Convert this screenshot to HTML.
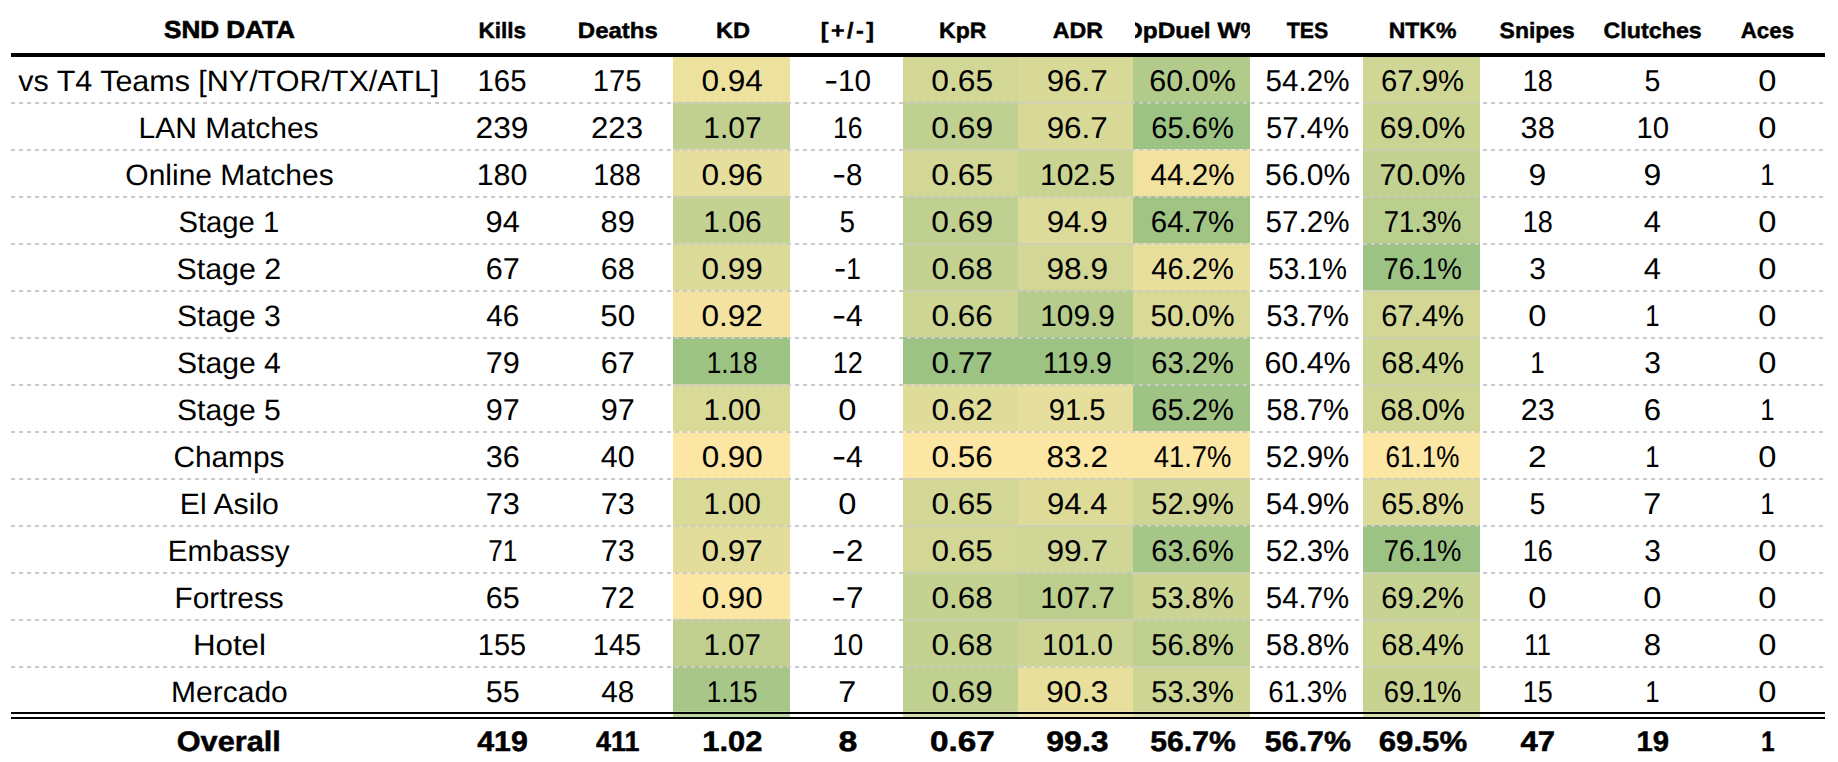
<!DOCTYPE html>
<html lang="en"><head><meta charset="utf-8"><title>SND DATA</title>
<style>
html,body{margin:0;padding:0;background:#fff;}
body{width:1838px;height:762px;position:relative;overflow:hidden;font-family:"Liberation Sans",sans-serif;color:#000;text-rendering:geometricPrecision;}
.c{position:absolute;text-align:center;white-space:nowrap;}
.f{position:absolute;}
.t{display:inline-block;transform-origin:50% 50%;}
.d{font-size:30px;line-height:47px;height:47px;}
.d0{font-size:29.5px;}
.h{font-size:22.1px;line-height:30px;height:30px;font-weight:bold;-webkit-text-stroke:0.45px #000;}
.h0{font-size:24.5px;line-height:30px;height:30px;font-weight:bold;-webkit-text-stroke:0.65px #000;}
.o{font-size:28.2px;line-height:40px;height:40px;font-weight:bold;-webkit-text-stroke:0.5px #000;}
.m{display:inline-block;transform:translateY(-1px) scale(1.4,1.1);margin:0 2px;}
.pm{letter-spacing:2.4px;margin-right:-2.4px;}
.clip{overflow:hidden;}
.clip .t{position:relative;left:50%;margin-left:-100px;width:200px;text-align:center;}
.dash{position:absolute;left:11px;width:1814px;height:2px;background:repeating-linear-gradient(90deg,#cbcbcb 0,#cbcbcb 4px,transparent 4px,transparent 8px);}
.ln{position:absolute;left:11px;width:1814px;background:#000;}

</style></head><body>
<div class="f" style="left:673px;top:55px;width:117px;height:49px;background:rgb(237,225,158)"></div>
<div class="f" style="left:903px;top:55px;width:117px;height:49px;background:rgb(210,215,149)"></div>
<div class="f" style="left:1018px;top:55px;width:117px;height:49px;background:rgb(216,217,151)"></div>
<div class="f" style="left:1133px;top:55px;width:117px;height:49px;background:rgb(178,203,139)"></div>
<div class="f" style="left:1363px;top:55px;width:117px;height:49px;background:rgb(208,214,149)"></div>
<div class="f" style="left:673px;top:102px;width:117px;height:49px;background:rgb(193,208,144)"></div>
<div class="f" style="left:903px;top:102px;width:117px;height:49px;background:rgb(192,208,144)"></div>
<div class="f" style="left:1018px;top:102px;width:117px;height:49px;background:rgb(216,217,151)"></div>
<div class="f" style="left:1133px;top:102px;width:117px;height:49px;background:rgb(157,195,132)"></div>
<div class="f" style="left:1363px;top:102px;width:117px;height:49px;background:rgb(201,211,146)"></div>
<div class="f" style="left:673px;top:149px;width:117px;height:49px;background:rgb(230,222,156)"></div>
<div class="f" style="left:903px;top:149px;width:117px;height:49px;background:rgb(210,215,149)"></div>
<div class="f" style="left:1018px;top:149px;width:117px;height:49px;background:rgb(201,211,146)"></div>
<div class="f" style="left:1133px;top:149px;width:117px;height:49px;background:rgb(241,226,159)"></div>
<div class="f" style="left:1363px;top:149px;width:117px;height:49px;background:rgb(194,209,144)"></div>
<div class="f" style="left:673px;top:196px;width:117px;height:49px;background:rgb(196,210,145)"></div>
<div class="f" style="left:903px;top:196px;width:117px;height:49px;background:rgb(192,208,144)"></div>
<div class="f" style="left:1018px;top:196px;width:117px;height:49px;background:rgb(220,219,153)"></div>
<div class="f" style="left:1133px;top:196px;width:117px;height:49px;background:rgb(161,196,133)"></div>
<div class="f" style="left:1363px;top:196px;width:117px;height:49px;background:rgb(186,206,142)"></div>
<div class="f" style="left:673px;top:243px;width:117px;height:49px;background:rgb(220,218,153)"></div>
<div class="f" style="left:903px;top:243px;width:117px;height:49px;background:rgb(196,210,145)"></div>
<div class="f" style="left:1018px;top:243px;width:117px;height:49px;background:rgb(210,215,149)"></div>
<div class="f" style="left:1133px;top:243px;width:117px;height:49px;background:rgb(233,223,157)"></div>
<div class="f" style="left:1363px;top:243px;width:117px;height:49px;background:rgb(157,195,132)"></div>
<div class="f" style="left:673px;top:290px;width:117px;height:49px;background:rgb(244,227,160)"></div>
<div class="f" style="left:903px;top:290px;width:117px;height:49px;background:rgb(205,213,148)"></div>
<div class="f" style="left:1018px;top:290px;width:117px;height:49px;background:rgb(182,204,140)"></div>
<div class="f" style="left:1133px;top:290px;width:117px;height:49px;background:rgb(218,218,152)"></div>
<div class="f" style="left:1363px;top:290px;width:117px;height:49px;background:rgb(211,215,150)"></div>
<div class="f" style="left:673px;top:337px;width:117px;height:49px;background:rgb(157,195,132)"></div>
<div class="f" style="left:903px;top:337px;width:117px;height:49px;background:rgb(157,195,132)"></div>
<div class="f" style="left:1018px;top:337px;width:117px;height:49px;background:rgb(157,195,132)"></div>
<div class="f" style="left:1133px;top:337px;width:117px;height:49px;background:rgb(166,198,135)"></div>
<div class="f" style="left:1363px;top:337px;width:117px;height:49px;background:rgb(204,213,148)"></div>
<div class="f" style="left:673px;top:384px;width:117px;height:49px;background:rgb(217,217,152)"></div>
<div class="f" style="left:903px;top:384px;width:117px;height:49px;background:rgb(223,220,154)"></div>
<div class="f" style="left:1018px;top:384px;width:117px;height:49px;background:rgb(229,222,156)"></div>
<div class="f" style="left:1133px;top:384px;width:117px;height:49px;background:rgb(159,195,133)"></div>
<div class="f" style="left:1363px;top:384px;width:117px;height:49px;background:rgb(207,214,148)"></div>
<div class="f" style="left:673px;top:431px;width:117px;height:49px;background:rgb(251,230,163)"></div>
<div class="f" style="left:903px;top:431px;width:117px;height:49px;background:rgb(251,230,163)"></div>
<div class="f" style="left:1018px;top:431px;width:117px;height:49px;background:rgb(251,230,163)"></div>
<div class="f" style="left:1133px;top:431px;width:117px;height:49px;background:rgb(251,230,163)"></div>
<div class="f" style="left:1363px;top:431px;width:117px;height:49px;background:rgb(251,230,163)"></div>
<div class="f" style="left:673px;top:478px;width:117px;height:49px;background:rgb(217,217,152)"></div>
<div class="f" style="left:903px;top:478px;width:117px;height:49px;background:rgb(210,215,149)"></div>
<div class="f" style="left:1018px;top:478px;width:117px;height:49px;background:rgb(222,219,153)"></div>
<div class="f" style="left:1133px;top:478px;width:117px;height:49px;background:rgb(206,213,148)"></div>
<div class="f" style="left:1363px;top:478px;width:117px;height:49px;background:rgb(221,219,153)"></div>
<div class="f" style="left:673px;top:525px;width:117px;height:49px;background:rgb(227,221,155)"></div>
<div class="f" style="left:903px;top:525px;width:117px;height:49px;background:rgb(210,215,149)"></div>
<div class="f" style="left:1018px;top:525px;width:117px;height:49px;background:rgb(208,214,149)"></div>
<div class="f" style="left:1133px;top:525px;width:117px;height:49px;background:rgb(165,198,135)"></div>
<div class="f" style="left:1363px;top:525px;width:117px;height:49px;background:rgb(157,195,132)"></div>
<div class="f" style="left:673px;top:572px;width:117px;height:49px;background:rgb(251,230,163)"></div>
<div class="f" style="left:903px;top:572px;width:117px;height:49px;background:rgb(196,210,145)"></div>
<div class="f" style="left:1018px;top:572px;width:117px;height:49px;background:rgb(187,206,142)"></div>
<div class="f" style="left:1133px;top:572px;width:117px;height:49px;background:rgb(203,212,147)"></div>
<div class="f" style="left:1363px;top:572px;width:117px;height:49px;background:rgb(199,211,146)"></div>
<div class="f" style="left:673px;top:619px;width:117px;height:49px;background:rgb(193,208,144)"></div>
<div class="f" style="left:903px;top:619px;width:117px;height:49px;background:rgb(196,210,145)"></div>
<div class="f" style="left:1018px;top:619px;width:117px;height:49px;background:rgb(205,213,148)"></div>
<div class="f" style="left:1133px;top:619px;width:117px;height:49px;background:rgb(191,207,143)"></div>
<div class="f" style="left:1363px;top:619px;width:117px;height:49px;background:rgb(204,213,148)"></div>
<div class="f" style="left:673px;top:666px;width:117px;height:53px;background:rgb(167,198,135)"></div>
<div class="f" style="left:903px;top:666px;width:117px;height:53px;background:rgb(192,208,144)"></div>
<div class="f" style="left:1018px;top:666px;width:117px;height:53px;background:rgb(232,223,157)"></div>
<div class="f" style="left:1133px;top:666px;width:117px;height:53px;background:rgb(204,213,148)"></div>
<div class="f" style="left:1363px;top:666px;width:117px;height:53px;background:rgb(200,211,146)"></div>
<div class="dash" style="top:102px"></div>
<div class="dash" style="top:149px"></div>
<div class="dash" style="top:196px"></div>
<div class="dash" style="top:243px"></div>
<div class="dash" style="top:290px"></div>
<div class="dash" style="top:337px"></div>
<div class="dash" style="top:384px"></div>
<div class="dash" style="top:431px"></div>
<div class="dash" style="top:478px"></div>
<div class="dash" style="top:525px"></div>
<div class="dash" style="top:572px"></div>
<div class="dash" style="top:619px"></div>
<div class="dash" style="top:666px"></div>
<div class="f" style="left:11px;top:711px;width:1814px;height:1px;background:rgba(255,255,255,.2)"></div>
<div class="f" style="left:11px;top:714px;width:1814px;height:3px;background:rgba(255,255,255,.25)"></div>
<div class="ln" style="top:53px;height:4px"></div>
<div class="ln" style="top:712px;height:2px"></div>
<div class="ln" style="top:717px;height:2px"></div>
<div class="c h0" style="left:13px;top:16.4px;width:432px"><span class="t" style="transform:scaleX(1.0656)">SND DATA</span></div>
<div class="c h" style="left:445px;top:16.3px;width:115px"><span class="t" style="transform:scaleX(1.0222)">Kills</span></div>
<div class="c h" style="left:560px;top:16.3px;width:115px"><span class="t" style="transform:scaleX(1.0861)">Deaths</span></div>
<div class="c h" style="left:675px;top:16.3px;width:115px"><span class="t" style="transform:scaleX(1.0667)">KD</span></div>
<div class="c h" style="left:790px;top:16.3px;width:115px"><span class="t" style="transform:scaleX(1.0510)"><span class="pm">[+/-]</span></span></div>
<div class="c h" style="left:905px;top:16.3px;width:115px"><span class="t" style="transform:scaleX(1.0409)">KpR</span></div>
<div class="c h" style="left:1020px;top:16.3px;width:115px"><span class="t" style="transform:scaleX(1.0489)">ADR</span></div>
<div class="c h clip" style="left:1135px;top:16.3px;width:115px;text-align:left"><span class="t" style="transform:scaleX(1.1070)">OpDuel W%</span></div>
<div class="c h" style="left:1250px;top:16.3px;width:115px"><span class="t" style="transform:scaleX(0.9667)">TES</span></div>
<div class="c h" style="left:1365px;top:16.3px;width:115px"><span class="t" style="transform:scaleX(1.0406)">NTK%</span></div>
<div class="c h" style="left:1480px;top:16.3px;width:115px"><span class="t" style="transform:scaleX(1.0394)">Snipes</span></div>
<div class="c h" style="left:1595px;top:16.3px;width:115px"><span class="t" style="transform:scaleX(1.0522)">Clutches</span></div>
<div class="c h" style="left:1710px;top:16.3px;width:115px"><span class="t" style="transform:scaleX(1.0115)">Aces</span></div>
<div class="c d d0" style="left:13px;top:57.5px;width:432px"><span class="t" style="transform:scaleX(1.0328)">vs T4 Teams [NY/TOR/TX/ATL]</span></div>
<div class="c d" style="left:445px;top:57.5px;width:115px"><span class="t" style="transform:scaleX(0.9783)">165</span></div>
<div class="c d" style="left:560px;top:57.5px;width:115px"><span class="t" style="transform:scaleX(0.9739)">175</span></div>
<div class="c d" style="left:675px;top:57.5px;width:115px"><span class="t" style="transform:scaleX(1.0526)">0.94</span></div>
<div class="c d" style="left:790px;top:57.5px;width:115px"><span class="t" style="transform:scaleX(0.9909)"><span class="m">-</span>10</span></div>
<div class="c d" style="left:905px;top:57.5px;width:115px"><span class="t" style="transform:scaleX(1.0589)">0.65</span></div>
<div class="c d" style="left:1020px;top:57.5px;width:115px"><span class="t" style="transform:scaleX(1.0455)">96.7</span></div>
<div class="c d" style="left:1135px;top:57.5px;width:115px"><span class="t" style="transform:scaleX(1.0169)">60.0%</span></div>
<div class="c d" style="left:1250px;top:57.5px;width:115px"><span class="t" style="transform:scaleX(0.9854)">54.2%</span></div>
<div class="c d" style="left:1365px;top:57.5px;width:115px"><span class="t" style="transform:scaleX(0.9747)">67.9%</span></div>
<div class="c d" style="left:1480px;top:57.5px;width:115px"><span class="t" style="transform:scaleX(0.9000)">18</span></div>
<div class="c d" style="left:1595px;top:57.5px;width:115px"><span class="t" style="transform:scaleX(0.9500)">5</span></div>
<div class="c d" style="left:1710px;top:57.5px;width:115px"><span class="t" style="transform:scaleX(1.0867)">0</span></div>
<div class="c d d0" style="left:13px;top:104.5px;width:432px"><span class="t" style="transform:scaleX(1.0173)">LAN Matches</span></div>
<div class="c d" style="left:445px;top:104.5px;width:115px"><span class="t" style="transform:scaleX(1.0596)">239</span></div>
<div class="c d" style="left:560px;top:104.5px;width:115px"><span class="t" style="transform:scaleX(1.0383)">223</span></div>
<div class="c d" style="left:675px;top:104.5px;width:115px"><span class="t" style="transform:scaleX(1.0000)">1.07</span></div>
<div class="c d" style="left:790px;top:104.5px;width:115px"><span class="t" style="transform:scaleX(0.8833)">16</span></div>
<div class="c d" style="left:905px;top:104.5px;width:115px"><span class="t" style="transform:scaleX(1.0589)">0.69</span></div>
<div class="c d" style="left:1020px;top:104.5px;width:115px"><span class="t" style="transform:scaleX(1.0455)">96.7</span></div>
<div class="c d" style="left:1135px;top:104.5px;width:115px"><span class="t" style="transform:scaleX(0.9711)">65.6%</span></div>
<div class="c d" style="left:1250px;top:104.5px;width:115px"><span class="t" style="transform:scaleX(0.9768)">57.4%</span></div>
<div class="c d" style="left:1365px;top:104.5px;width:115px"><span class="t" style="transform:scaleX(1.0036)">69.0%</span></div>
<div class="c d" style="left:1480px;top:104.5px;width:115px"><span class="t" style="transform:scaleX(1.0258)">38</span></div>
<div class="c d" style="left:1595px;top:104.5px;width:115px"><span class="t" style="transform:scaleX(0.9767)">10</span></div>
<div class="c d" style="left:1710px;top:104.5px;width:115px"><span class="t" style="transform:scaleX(1.0867)">0</span></div>
<div class="c d d0" style="left:13px;top:151.5px;width:432px"><span class="t" style="transform:scaleX(1.0163)">Online Matches</span></div>
<div class="c d" style="left:445px;top:151.5px;width:115px"><span class="t" style="transform:scaleX(1.0130)">180</span></div>
<div class="c d" style="left:560px;top:151.5px;width:115px"><span class="t" style="transform:scaleX(0.9522)">188</span></div>
<div class="c d" style="left:675px;top:151.5px;width:115px"><span class="t" style="transform:scaleX(1.0536)">0.96</span></div>
<div class="c d" style="left:790px;top:151.5px;width:115px"><span class="t" style="transform:scaleX(0.9821)"><span class="m">-</span>8</span></div>
<div class="c d" style="left:905px;top:151.5px;width:115px"><span class="t" style="transform:scaleX(1.0589)">0.65</span></div>
<div class="c d" style="left:1020px;top:151.5px;width:115px"><span class="t" style="transform:scaleX(1.0014)">102.5</span></div>
<div class="c d" style="left:1135px;top:151.5px;width:115px"><span class="t" style="transform:scaleX(0.9855)">44.2%</span></div>
<div class="c d" style="left:1250px;top:151.5px;width:115px"><span class="t" style="transform:scaleX(1.0012)">56.0%</span></div>
<div class="c d" style="left:1365px;top:151.5px;width:115px"><span class="t" style="transform:scaleX(1.0096)">70.0%</span></div>
<div class="c d" style="left:1480px;top:151.5px;width:115px"><span class="t" style="transform:scaleX(1.0615)">9</span></div>
<div class="c d" style="left:1595px;top:151.5px;width:115px"><span class="t" style="transform:scaleX(1.0615)">9</span></div>
<div class="c d" style="left:1710px;top:151.5px;width:115px"><span class="t" style="transform:scaleX(0.8583)">1</span></div>
<div class="c d d0" style="left:13px;top:198.5px;width:432px"><span class="t" style="transform:scaleX(0.9898)">Stage 1</span></div>
<div class="c d" style="left:445px;top:198.5px;width:115px"><span class="t" style="transform:scaleX(1.0258)">94</span></div>
<div class="c d" style="left:560px;top:198.5px;width:115px"><span class="t" style="transform:scaleX(1.0258)">89</span></div>
<div class="c d" style="left:675px;top:198.5px;width:115px"><span class="t" style="transform:scaleX(1.0000)">1.06</span></div>
<div class="c d" style="left:790px;top:198.5px;width:115px"><span class="t" style="transform:scaleX(0.9286)">5</span></div>
<div class="c d" style="left:905px;top:198.5px;width:115px"><span class="t" style="transform:scaleX(1.0589)">0.69</span></div>
<div class="c d" style="left:1020px;top:198.5px;width:115px"><span class="t" style="transform:scaleX(1.0455)">94.9</span></div>
<div class="c d" style="left:1135px;top:198.5px;width:115px"><span class="t" style="transform:scaleX(0.9795)">64.7%</span></div>
<div class="c d" style="left:1250px;top:198.5px;width:115px"><span class="t" style="transform:scaleX(0.9854)">57.2%</span></div>
<div class="c d" style="left:1365px;top:198.5px;width:115px"><span class="t" style="transform:scaleX(0.9145)">71.3%</span></div>
<div class="c d" style="left:1480px;top:198.5px;width:115px"><span class="t" style="transform:scaleX(0.9000)">18</span></div>
<div class="c d" style="left:1595px;top:198.5px;width:115px"><span class="t" style="transform:scaleX(1.0333)">4</span></div>
<div class="c d" style="left:1710px;top:198.5px;width:115px"><span class="t" style="transform:scaleX(1.0867)">0</span></div>
<div class="c d d0" style="left:13px;top:245.5px;width:432px"><span class="t" style="transform:scaleX(1.0306)">Stage 2</span></div>
<div class="c d" style="left:445px;top:245.5px;width:115px"><span class="t" style="transform:scaleX(1.0194)">67</span></div>
<div class="c d" style="left:560px;top:245.5px;width:115px"><span class="t" style="transform:scaleX(1.0194)">68</span></div>
<div class="c d" style="left:675px;top:245.5px;width:115px"><span class="t" style="transform:scaleX(1.0500)">0.99</span></div>
<div class="c d" style="left:790px;top:245.5px;width:115px"><span class="t" style="transform:scaleX(0.8741)"><span class="m">-</span>1</span></div>
<div class="c d" style="left:905px;top:245.5px;width:115px"><span class="t" style="transform:scaleX(1.0500)">0.68</span></div>
<div class="c d" style="left:1020px;top:245.5px;width:115px"><span class="t" style="transform:scaleX(1.0545)">98.9</span></div>
<div class="c d" style="left:1135px;top:245.5px;width:115px"><span class="t" style="transform:scaleX(0.9687)">46.2%</span></div>
<div class="c d" style="left:1250px;top:245.5px;width:115px"><span class="t" style="transform:scaleX(0.9244)">53.1%</span></div>
<div class="c d" style="left:1365px;top:245.5px;width:115px"><span class="t" style="transform:scaleX(0.9217)">76.1%</span></div>
<div class="c d" style="left:1480px;top:245.5px;width:115px"><span class="t" style="transform:scaleX(1.0000)">3</span></div>
<div class="c d" style="left:1595px;top:245.5px;width:115px"><span class="t" style="transform:scaleX(1.0333)">4</span></div>
<div class="c d" style="left:1710px;top:245.5px;width:115px"><span class="t" style="transform:scaleX(1.0867)">0</span></div>
<div class="c d d0" style="left:13px;top:292.5px;width:432px"><span class="t" style="transform:scaleX(1.0202)">Stage 3</span></div>
<div class="c d" style="left:445px;top:292.5px;width:115px"><span class="t" style="transform:scaleX(0.9875)">46</span></div>
<div class="c d" style="left:560px;top:292.5px;width:115px"><span class="t" style="transform:scaleX(1.0452)">50</span></div>
<div class="c d" style="left:675px;top:292.5px;width:115px"><span class="t" style="transform:scaleX(1.0500)">0.92</span></div>
<div class="c d" style="left:790px;top:292.5px;width:115px"><span class="t" style="transform:scaleX(1.0071)"><span class="m">-</span>4</span></div>
<div class="c d" style="left:905px;top:292.5px;width:115px"><span class="t" style="transform:scaleX(1.0500)">0.66</span></div>
<div class="c d" style="left:1020px;top:292.5px;width:115px"><span class="t" style="transform:scaleX(0.9944)">109.9</span></div>
<div class="c d" style="left:1135px;top:292.5px;width:115px"><span class="t" style="transform:scaleX(0.9880)">50.0%</span></div>
<div class="c d" style="left:1250px;top:292.5px;width:115px"><span class="t" style="transform:scaleX(0.9720)">53.7%</span></div>
<div class="c d" style="left:1365px;top:292.5px;width:115px"><span class="t" style="transform:scaleX(0.9723)">67.4%</span></div>
<div class="c d" style="left:1480px;top:292.5px;width:115px"><span class="t" style="transform:scaleX(1.0867)">0</span></div>
<div class="c d" style="left:1595px;top:292.5px;width:115px"><span class="t" style="transform:scaleX(0.8583)">1</span></div>
<div class="c d" style="left:1710px;top:292.5px;width:115px"><span class="t" style="transform:scaleX(1.0867)">0</span></div>
<div class="c d d0" style="left:13px;top:339.5px;width:432px"><span class="t" style="transform:scaleX(1.0202)">Stage 4</span></div>
<div class="c d" style="left:445px;top:339.5px;width:115px"><span class="t" style="transform:scaleX(1.0194)">79</span></div>
<div class="c d" style="left:560px;top:339.5px;width:115px"><span class="t" style="transform:scaleX(1.0194)">67</span></div>
<div class="c d" style="left:675px;top:339.5px;width:115px"><span class="t" style="transform:scaleX(0.8714)">1.18</span></div>
<div class="c d" style="left:790px;top:339.5px;width:115px"><span class="t" style="transform:scaleX(0.9000)">12</span></div>
<div class="c d" style="left:905px;top:339.5px;width:115px"><span class="t" style="transform:scaleX(1.0500)">0.77</span></div>
<div class="c d" style="left:1020px;top:339.5px;width:115px"><span class="t" style="transform:scaleX(0.9457)">119.9</span></div>
<div class="c d" style="left:1135px;top:339.5px;width:115px"><span class="t" style="transform:scaleX(0.9687)">63.2%</span></div>
<div class="c d" style="left:1250px;top:339.5px;width:115px"><span class="t" style="transform:scaleX(1.0146)">60.4%</span></div>
<div class="c d" style="left:1365px;top:339.5px;width:115px"><span class="t" style="transform:scaleX(0.9723)">68.4%</span></div>
<div class="c d" style="left:1480px;top:339.5px;width:115px"><span class="t" style="transform:scaleX(0.8583)">1</span></div>
<div class="c d" style="left:1595px;top:339.5px;width:115px"><span class="t" style="transform:scaleX(1.0000)">3</span></div>
<div class="c d" style="left:1710px;top:339.5px;width:115px"><span class="t" style="transform:scaleX(1.0867)">0</span></div>
<div class="c d d0" style="left:13px;top:386.5px;width:432px"><span class="t" style="transform:scaleX(1.0202)">Stage 5</span></div>
<div class="c d" style="left:445px;top:386.5px;width:115px"><span class="t" style="transform:scaleX(1.0194)">97</span></div>
<div class="c d" style="left:560px;top:386.5px;width:115px"><span class="t" style="transform:scaleX(1.0194)">97</span></div>
<div class="c d" style="left:675px;top:386.5px;width:115px"><span class="t" style="transform:scaleX(0.9821)">1.00</span></div>
<div class="c d" style="left:790px;top:386.5px;width:115px"><span class="t" style="transform:scaleX(1.0867)">0</span></div>
<div class="c d" style="left:905px;top:386.5px;width:115px"><span class="t" style="transform:scaleX(1.0500)">0.62</span></div>
<div class="c d" style="left:1020px;top:386.5px;width:115px"><span class="t" style="transform:scaleX(0.9709)">91.5</span></div>
<div class="c d" style="left:1135px;top:386.5px;width:115px"><span class="t" style="transform:scaleX(0.9687)">65.2%</span></div>
<div class="c d" style="left:1250px;top:386.5px;width:115px"><span class="t" style="transform:scaleX(0.9720)">58.7%</span></div>
<div class="c d" style="left:1365px;top:386.5px;width:115px"><span class="t" style="transform:scaleX(0.9964)">68.0%</span></div>
<div class="c d" style="left:1480px;top:386.5px;width:115px"><span class="t" style="transform:scaleX(1.0194)">23</span></div>
<div class="c d" style="left:1595px;top:386.5px;width:115px"><span class="t" style="transform:scaleX(1.0357)">6</span></div>
<div class="c d" style="left:1710px;top:386.5px;width:115px"><span class="t" style="transform:scaleX(0.8583)">1</span></div>
<div class="c d d0" style="left:13px;top:433.5px;width:432px"><span class="t" style="transform:scaleX(1.0093)">Champs</span></div>
<div class="c d" style="left:445px;top:433.5px;width:115px"><span class="t" style="transform:scaleX(1.0194)">36</span></div>
<div class="c d" style="left:560px;top:433.5px;width:115px"><span class="t" style="transform:scaleX(1.0125)">40</span></div>
<div class="c d" style="left:675px;top:433.5px;width:115px"><span class="t" style="transform:scaleX(1.0456)">0.90</span></div>
<div class="c d" style="left:790px;top:433.5px;width:115px"><span class="t" style="transform:scaleX(1.0071)"><span class="m">-</span>4</span></div>
<div class="c d" style="left:905px;top:433.5px;width:115px"><span class="t" style="transform:scaleX(1.0500)">0.56</span></div>
<div class="c d" style="left:1020px;top:433.5px;width:115px"><span class="t" style="transform:scaleX(1.0545)">83.2</span></div>
<div class="c d" style="left:1135px;top:433.5px;width:115px"><span class="t" style="transform:scaleX(0.9133)">41.7%</span></div>
<div class="c d" style="left:1250px;top:433.5px;width:115px"><span class="t" style="transform:scaleX(0.9805)">52.9%</span></div>
<div class="c d" style="left:1365px;top:433.5px;width:115px"><span class="t" style="transform:scaleX(0.8683)">61.1%</span></div>
<div class="c d" style="left:1480px;top:433.5px;width:115px"><span class="t" style="transform:scaleX(1.1154)">2</span></div>
<div class="c d" style="left:1595px;top:433.5px;width:115px"><span class="t" style="transform:scaleX(0.8583)">1</span></div>
<div class="c d" style="left:1710px;top:433.5px;width:115px"><span class="t" style="transform:scaleX(1.0867)">0</span></div>
<div class="c d d0" style="left:13px;top:480.5px;width:432px"><span class="t" style="transform:scaleX(1.0237)">El Asilo</span></div>
<div class="c d" style="left:445px;top:480.5px;width:115px"><span class="t" style="transform:scaleX(1.0194)">73</span></div>
<div class="c d" style="left:560px;top:480.5px;width:115px"><span class="t" style="transform:scaleX(1.0194)">73</span></div>
<div class="c d" style="left:675px;top:480.5px;width:115px"><span class="t" style="transform:scaleX(0.9821)">1.00</span></div>
<div class="c d" style="left:790px;top:480.5px;width:115px"><span class="t" style="transform:scaleX(1.0867)">0</span></div>
<div class="c d" style="left:905px;top:480.5px;width:115px"><span class="t" style="transform:scaleX(1.0500)">0.65</span></div>
<div class="c d" style="left:1020px;top:480.5px;width:115px"><span class="t" style="transform:scaleX(1.0357)">94.4</span></div>
<div class="c d" style="left:1135px;top:480.5px;width:115px"><span class="t" style="transform:scaleX(0.9687)">52.9%</span></div>
<div class="c d" style="left:1250px;top:480.5px;width:115px"><span class="t" style="transform:scaleX(0.9805)">54.9%</span></div>
<div class="c d" style="left:1365px;top:480.5px;width:115px"><span class="t" style="transform:scaleX(0.9687)">65.8%</span></div>
<div class="c d" style="left:1480px;top:480.5px;width:115px"><span class="t" style="transform:scaleX(0.9500)">5</span></div>
<div class="c d" style="left:1595px;top:480.5px;width:115px"><span class="t" style="transform:scaleX(1.0769)">7</span></div>
<div class="c d" style="left:1710px;top:480.5px;width:115px"><span class="t" style="transform:scaleX(0.8583)">1</span></div>
<div class="c d d0" style="left:13px;top:527.5px;width:432px"><span class="t" style="transform:scaleX(1.0034)">Embassy</span></div>
<div class="c d" style="left:445px;top:527.5px;width:115px"><span class="t" style="transform:scaleX(0.8710)">71</span></div>
<div class="c d" style="left:560px;top:527.5px;width:115px"><span class="t" style="transform:scaleX(1.0194)">73</span></div>
<div class="c d" style="left:675px;top:527.5px;width:115px"><span class="t" style="transform:scaleX(1.0500)">0.97</span></div>
<div class="c d" style="left:790px;top:527.5px;width:115px"><span class="t" style="transform:scaleX(1.0444)"><span class="m">-</span>2</span></div>
<div class="c d" style="left:905px;top:527.5px;width:115px"><span class="t" style="transform:scaleX(1.0500)">0.65</span></div>
<div class="c d" style="left:1020px;top:527.5px;width:115px"><span class="t" style="transform:scaleX(1.0545)">99.7</span></div>
<div class="c d" style="left:1135px;top:527.5px;width:115px"><span class="t" style="transform:scaleX(0.9687)">63.6%</span></div>
<div class="c d" style="left:1250px;top:527.5px;width:115px"><span class="t" style="transform:scaleX(0.9805)">52.3%</span></div>
<div class="c d" style="left:1365px;top:527.5px;width:115px"><span class="t" style="transform:scaleX(0.9133)">76.1%</span></div>
<div class="c d" style="left:1480px;top:527.5px;width:115px"><span class="t" style="transform:scaleX(0.9000)">16</span></div>
<div class="c d" style="left:1595px;top:527.5px;width:115px"><span class="t" style="transform:scaleX(1.0000)">3</span></div>
<div class="c d" style="left:1710px;top:527.5px;width:115px"><span class="t" style="transform:scaleX(1.0867)">0</span></div>
<div class="c d d0" style="left:13px;top:574.5px;width:432px"><span class="t" style="transform:scaleX(1.0095)">Fortress</span></div>
<div class="c d" style="left:445px;top:574.5px;width:115px"><span class="t" style="transform:scaleX(1.0194)">65</span></div>
<div class="c d" style="left:560px;top:574.5px;width:115px"><span class="t" style="transform:scaleX(1.0194)">72</span></div>
<div class="c d" style="left:675px;top:574.5px;width:115px"><span class="t" style="transform:scaleX(1.0456)">0.90</span></div>
<div class="c d" style="left:790px;top:574.5px;width:115px"><span class="t" style="transform:scaleX(1.0444)"><span class="m">-</span>7</span></div>
<div class="c d" style="left:905px;top:574.5px;width:115px"><span class="t" style="transform:scaleX(1.0500)">0.68</span></div>
<div class="c d" style="left:1020px;top:574.5px;width:115px"><span class="t" style="transform:scaleX(0.9944)">107.7</span></div>
<div class="c d" style="left:1135px;top:574.5px;width:115px"><span class="t" style="transform:scaleX(0.9687)">53.8%</span></div>
<div class="c d" style="left:1250px;top:574.5px;width:115px"><span class="t" style="transform:scaleX(0.9805)">54.7%</span></div>
<div class="c d" style="left:1365px;top:574.5px;width:115px"><span class="t" style="transform:scaleX(0.9687)">69.2%</span></div>
<div class="c d" style="left:1480px;top:574.5px;width:115px"><span class="t" style="transform:scaleX(1.0867)">0</span></div>
<div class="c d" style="left:1595px;top:574.5px;width:115px"><span class="t" style="transform:scaleX(1.0867)">0</span></div>
<div class="c d" style="left:1710px;top:574.5px;width:115px"><span class="t" style="transform:scaleX(1.0867)">0</span></div>
<div class="c d d0" style="left:13px;top:621.5px;width:432px"><span class="t" style="transform:scaleX(1.0615)">Hotel</span></div>
<div class="c d" style="left:445px;top:621.5px;width:115px"><span class="t" style="transform:scaleX(0.9652)">155</span></div>
<div class="c d" style="left:560px;top:621.5px;width:115px"><span class="t" style="transform:scaleX(0.9652)">145</span></div>
<div class="c d" style="left:675px;top:621.5px;width:115px"><span class="t" style="transform:scaleX(0.9855)">1.07</span></div>
<div class="c d" style="left:790px;top:621.5px;width:115px"><span class="t" style="transform:scaleX(0.9267)">10</span></div>
<div class="c d" style="left:905px;top:621.5px;width:115px"><span class="t" style="transform:scaleX(1.0500)">0.68</span></div>
<div class="c d" style="left:1020px;top:621.5px;width:115px"><span class="t" style="transform:scaleX(0.9417)">101.0</span></div>
<div class="c d" style="left:1135px;top:621.5px;width:115px"><span class="t" style="transform:scaleX(0.9687)">56.8%</span></div>
<div class="c d" style="left:1250px;top:621.5px;width:115px"><span class="t" style="transform:scaleX(0.9805)">58.8%</span></div>
<div class="c d" style="left:1365px;top:621.5px;width:115px"><span class="t" style="transform:scaleX(0.9687)">68.4%</span></div>
<div class="c d" style="left:1480px;top:621.5px;width:115px"><span class="t" style="transform:scaleX(0.8500)">11</span></div>
<div class="c d" style="left:1595px;top:621.5px;width:115px"><span class="t" style="transform:scaleX(1.0357)">8</span></div>
<div class="c d" style="left:1710px;top:621.5px;width:115px"><span class="t" style="transform:scaleX(1.0867)">0</span></div>
<div class="c d d0" style="left:13px;top:668.5px;width:432px"><span class="t" style="transform:scaleX(1.0180)">Mercado</span></div>
<div class="c d" style="left:445px;top:668.5px;width:115px"><span class="t" style="transform:scaleX(1.0194)">55</span></div>
<div class="c d" style="left:560px;top:668.5px;width:115px"><span class="t" style="transform:scaleX(0.9875)">48</span></div>
<div class="c d" style="left:675px;top:668.5px;width:115px"><span class="t" style="transform:scaleX(0.8714)">1.15</span></div>
<div class="c d" style="left:790px;top:668.5px;width:115px"><span class="t" style="transform:scaleX(1.0769)">7</span></div>
<div class="c d" style="left:905px;top:668.5px;width:115px"><span class="t" style="transform:scaleX(1.0500)">0.69</span></div>
<div class="c d" style="left:1020px;top:668.5px;width:115px"><span class="t" style="transform:scaleX(1.0691)">90.3</span></div>
<div class="c d" style="left:1135px;top:668.5px;width:115px"><span class="t" style="transform:scaleX(0.9687)">53.3%</span></div>
<div class="c d" style="left:1250px;top:668.5px;width:115px"><span class="t" style="transform:scaleX(0.9244)">61.3%</span></div>
<div class="c d" style="left:1365px;top:668.5px;width:115px"><span class="t" style="transform:scaleX(0.9133)">69.1%</span></div>
<div class="c d" style="left:1480px;top:668.5px;width:115px"><span class="t" style="transform:scaleX(0.9000)">15</span></div>
<div class="c d" style="left:1595px;top:668.5px;width:115px"><span class="t" style="transform:scaleX(0.8583)">1</span></div>
<div class="c d" style="left:1710px;top:668.5px;width:115px"><span class="t" style="transform:scaleX(1.0867)">0</span></div>
<div class="c o" style="left:13px;top:720.9px;width:432px"><span class="t" style="transform:scaleX(1.0892)">Overall</span></div>
<div class="c o" style="left:445px;top:720.9px;width:115px"><span class="t" style="transform:scaleX(1.0761)">419</span></div>
<div class="c o" style="left:560px;top:720.9px;width:115px"><span class="t" style="transform:scaleX(0.9533)">411</span></div>
<div class="c o" style="left:675px;top:720.9px;width:115px"><span class="t" style="transform:scaleX(1.0981)">1.02</span></div>
<div class="c o" style="left:790px;top:720.9px;width:115px"><span class="t" style="transform:scaleX(1.2000)">8</span></div>
<div class="c o" style="left:905px;top:720.9px;width:115px"><span class="t" style="transform:scaleX(1.1830)">0.67</span></div>
<div class="c o" style="left:1020px;top:720.9px;width:115px"><span class="t" style="transform:scaleX(1.1340)">99.3</span></div>
<div class="c o" style="left:1135px;top:720.9px;width:115px"><span class="t" style="transform:scaleX(1.0696)">56.7%</span></div>
<div class="c o" style="left:1250px;top:720.9px;width:115px"><span class="t" style="transform:scaleX(1.0785)">56.7%</span></div>
<div class="c o" style="left:1365px;top:720.9px;width:115px"><span class="t" style="transform:scaleX(1.1063)">69.5%</span></div>
<div class="c o" style="left:1480px;top:720.9px;width:115px"><span class="t" style="transform:scaleX(1.1000)">47</span></div>
<div class="c o" style="left:1595px;top:720.9px;width:115px"><span class="t" style="transform:scaleX(1.0379)">19</span></div>
<div class="c o" style="left:1710px;top:720.9px;width:115px"><span class="t" style="transform:scaleX(0.8500)">1</span></div>
</body></html>
